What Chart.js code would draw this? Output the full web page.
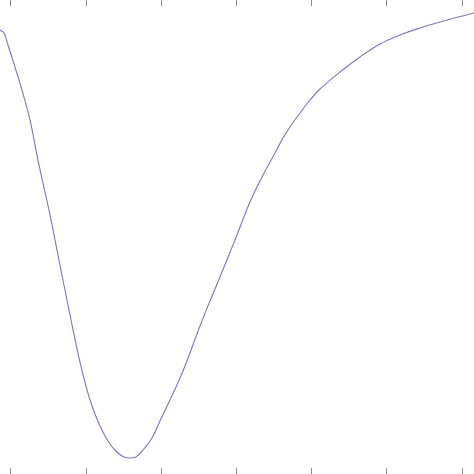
<!DOCTYPE html>
<html>
<head>
<meta charset="utf-8">
<script src="https://cdn.jsdelivr.net/npm/chart.js@4.4.1/dist/chart.umd.min.js"></script>
<style>
    html, body { margin: 0; padding: 0; background: #fff; }
    #wrap { width: 474px; height: 474px; }
</style>
</head>
<body>
<div id="wrap"><canvas id="curve"></canvas></div>
<script>
// curve samples
const xValues = [-0.146, -0.093, -0.040, 0.053, 0.146, 0.253, 0.359, 0.519, 0.625, 0.785,
    0.918, 1.051, 1.184, 1.316, 1.423, 1.503, 1.582, 1.662, 1.755, 1.875,
    1.981, 2.114, 2.287, 2.513, 2.646, 2.779, 2.979, 3.178, 3.338, 3.511,
    3.617, 3.710, 3.843, 3.976, 4.109, 4.375, 4.641, 4.907, 5.173, 5.439,
    5.705, 6.157];
const yValues = [9.478, 9.413, 9.152, 8.674, 8.174, 7.522, 6.652, 5.457, 4.587, 3.283,
    2.261, 1.435, 0.870, 0.478, 0.283, 0.196, 0.174, 0.196, 0.348, 0.609,
    0.978, 1.435, 2.065, 3.043, 3.587, 4.109, 4.913, 5.739, 6.283, 6.804,
    7.130, 7.370, 7.674, 7.957, 8.196, 8.565, 8.891, 9.174, 9.370, 9.522,
    9.652, 9.848];
const xTicks = [0, 1, 2, 3, 4, 5, 6];

const points = xValues.map((x, i) => ({ x: x, y: yValues[i] }));

function tickAxis(pos) {
    return {
        type: "linear",
        position: pos,
        min: -0.146,
        max: 6.157,
        afterBuildTicks: (scale) => {
            scale.ticks = xTicks.map(v => ({ value: v }));
        },
        ticks: { display: false },
        grid: {
            display: true,
            drawOnChartArea: false,
            drawTicks: true,
            tickLength: 6,
            color: "#8a8a8a",
            lineWidth: 1
        },
        border: { display: false }
    };
}

new Chart(document.getElementById("curve"), {
    type: "line",
    data: {
        datasets: [{
            data: points,
            xAxisID: "x",
            yAxisID: "y",
            borderColor: "#7676c8",
            borderWidth: 1.1,
            pointRadius: 0,
            tension: 0.4,
            fill: false
        }]
    },
    options: {
        responsive: true,
        maintainAspectRatio: false,
        animation: false,
        layout: { padding: 0 },
        plugins: {
            legend: { display: false },
            tooltip: { enabled: false }
        },
        scales: {
            x: tickAxis("bottom"),
            x2: tickAxis("top"),
            y: {
                display: false,
                min: -0.043,
                max: 10
            }
        }
    }
});
</script>
</body>
</html>
